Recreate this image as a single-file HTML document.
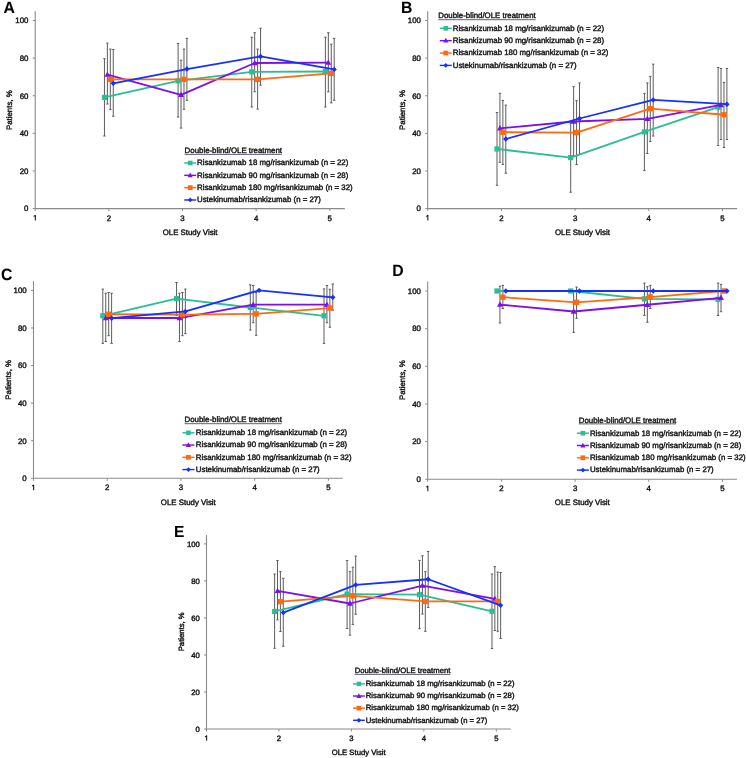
<!DOCTYPE html>
<html><head><meta charset="utf-8"><style>
html,body{margin:0;padding:0;background:#fff;}
body{width:746px;height:758px;overflow:hidden;}
svg{display:block;will-change:transform;}
text{font-family:"Liberation Sans",sans-serif;fill:#141414;stroke:#141414;stroke-width:0.4px;text-rendering:geometricPrecision;}
</style></head><body>
<svg width="746" height="758" viewBox="0 0 746 758">
<path d="M35.2 11.3V208.6H344.8" stroke="#8A8A8A" stroke-width="1.1" fill="none"/>
<path d="M32.7 208.6H35.2" stroke="#8A8A8A" stroke-width="1"/>
<text transform="translate(28.4 211.4) scale(1 1.0)" text-anchor="end" font-size="7.86">0</text>
<path d="M32.7 170.98H35.2" stroke="#8A8A8A" stroke-width="1"/>
<text transform="translate(28.4 173.78) scale(1 1.0)" text-anchor="end" font-size="7.86">20</text>
<path d="M32.7 133.36H35.2" stroke="#8A8A8A" stroke-width="1"/>
<text transform="translate(28.4 136.16) scale(1 1.0)" text-anchor="end" font-size="7.86">40</text>
<path d="M32.7 95.74H35.2" stroke="#8A8A8A" stroke-width="1"/>
<text transform="translate(28.4 98.54) scale(1 1.0)" text-anchor="end" font-size="7.86">60</text>
<path d="M32.7 58.12H35.2" stroke="#8A8A8A" stroke-width="1"/>
<text transform="translate(28.4 60.92) scale(1 1.0)" text-anchor="end" font-size="7.86">80</text>
<path d="M32.7 20.5H35.2" stroke="#8A8A8A" stroke-width="1"/>
<text transform="translate(28.4 23.3) scale(1 1.0)" text-anchor="end" font-size="7.86">100</text>
<path d="M35.2 208.6V211.1" stroke="#8A8A8A" stroke-width="1"/>
<path d="M35.35 220.6V215M35.35 215.1C34.85 216 34.15 216.3 33.65 216.4" stroke="#141414" stroke-width="1.05" fill="none"/>
<path d="M108.85 208.6V211.1" stroke="#8A8A8A" stroke-width="1"/>
<text transform="translate(108.85 220.6) scale(1 1.0)" text-anchor="middle" font-size="7.86">2</text>
<path d="M182.5 208.6V211.1" stroke="#8A8A8A" stroke-width="1"/>
<text transform="translate(182.5 220.6) scale(1 1.0)" text-anchor="middle" font-size="7.86">3</text>
<path d="M256.15 208.6V211.1" stroke="#8A8A8A" stroke-width="1"/>
<text transform="translate(256.15 220.6) scale(1 1.0)" text-anchor="middle" font-size="7.86">4</text>
<path d="M329.8 208.6V211.1" stroke="#8A8A8A" stroke-width="1"/>
<text transform="translate(329.8 220.6) scale(1 1.0)" text-anchor="middle" font-size="7.86">5</text>
<text transform="translate(190.1 234.8) scale(1 1.0)" text-anchor="middle" font-size="7.86">OLE Study Visit</text>
<text transform="translate(12.1 110.2) rotate(-90) scale(1 1.0)" text-anchor="middle" font-size="7.86">Patients, %</text>
<text transform="translate(3.6 13.1) scale(0.97 1)" x="0" y="0" font-size="16.3" font-weight="bold" style="fill:#000;stroke:#000;stroke-width:0.05px">A</text>
<path d="M104.45 58.68V135.99M103.25 58.68h2.4M103.25 135.99h2.4" stroke="#5C5C5C" stroke-width="1" fill="none"/>
<path d="M178.1 43.45V117M176.9 43.45h2.4M176.9 117h2.4" stroke="#5C5C5C" stroke-width="1" fill="none"/>
<path d="M251.75 37.24V107.03M250.55 37.24h2.4M250.55 107.03h2.4" stroke="#5C5C5C" stroke-width="1" fill="none"/>
<path d="M325.4 37.24V107.03M324.2 37.24h2.4M324.2 107.03h2.4" stroke="#5C5C5C" stroke-width="1" fill="none"/>
<path d="M107.38 43.07V104.02M106.18 43.07h2.4M106.18 104.02h2.4" stroke="#5C5C5C" stroke-width="1" fill="none"/>
<path d="M181.03 60.19V128.09M179.83 60.19h2.4M179.83 128.09h2.4" stroke="#5C5C5C" stroke-width="1" fill="none"/>
<path d="M254.68 32.73V91.79M253.48 32.73h2.4M253.48 91.79h2.4" stroke="#5C5C5C" stroke-width="1" fill="none"/>
<path d="M328.33 32.73V91.79M327.13 32.73h2.4M327.13 91.79h2.4" stroke="#5C5C5C" stroke-width="1" fill="none"/>
<path d="M110.32 49.09V109.47M109.12 49.09h2.4M109.12 109.47h2.4" stroke="#5C5C5C" stroke-width="1" fill="none"/>
<path d="M183.97 49.09V109.28M182.77 49.09h2.4M182.77 109.28h2.4" stroke="#5C5C5C" stroke-width="1" fill="none"/>
<path d="M257.62 49.09V109.1M256.42 49.09h2.4M256.42 109.1h2.4" stroke="#5C5C5C" stroke-width="1" fill="none"/>
<path d="M331.27 44.2V102.89M330.07 44.2h2.4M330.07 102.89h2.4" stroke="#5C5C5C" stroke-width="1" fill="none"/>
<path d="M113.25 49.47V116.24M112.05 49.47h2.4M112.05 116.24h2.4" stroke="#5C5C5C" stroke-width="1" fill="none"/>
<path d="M186.9 38.37V100.25M185.7 38.37h2.4M185.7 100.25h2.4" stroke="#5C5C5C" stroke-width="1" fill="none"/>
<path d="M260.55 28.21V85.21M259.35 28.21h2.4M259.35 85.21h2.4" stroke="#5C5C5C" stroke-width="1" fill="none"/>
<path d="M334.2 38.37V100.25M333 38.37h2.4M333 100.25h2.4" stroke="#5C5C5C" stroke-width="1" fill="none"/>
<polyline points="104.45,97.43 178.1,80.88 251.75,71.85 325.4,71.48" stroke="#2BBD95" stroke-width="1.8" fill="none" stroke-linejoin="round"/>
<rect x="101.85" y="94.83" width="5.2" height="5.2" fill="#2BBD95"/>
<rect x="175.5" y="78.28" width="5.2" height="5.2" fill="#2BBD95"/>
<rect x="249.15" y="69.25" width="5.2" height="5.2" fill="#2BBD95"/>
<rect x="322.8" y="68.88" width="5.2" height="5.2" fill="#2BBD95"/>
<polyline points="107.38,74.67 181.03,94.8 254.68,63.01 328.33,62.63" stroke="#7F0FEA" stroke-width="1.8" fill="none" stroke-linejoin="round"/>
<polygon points="107.38,71.47 110.28,76.87 104.48,76.87" fill="#7F0FEA"/>
<polygon points="181.03,91.6 183.93,97 178.13,97" fill="#7F0FEA"/>
<polygon points="254.68,59.81 257.58,65.21 251.78,65.21" fill="#7F0FEA"/>
<polygon points="328.33,59.43 331.23,64.83 325.43,64.83" fill="#7F0FEA"/>
<polyline points="110.32,79.38 183.97,79.38 257.62,79.38 331.27,73.36" stroke="#FF6A10" stroke-width="1.8" fill="none" stroke-linejoin="round"/>
<rect x="107.62" y="76.68" width="5.4" height="5.4" fill="#FF6A10"/>
<rect x="181.27" y="76.68" width="5.4" height="5.4" fill="#FF6A10"/>
<rect x="254.92" y="76.68" width="5.4" height="5.4" fill="#FF6A10"/>
<rect x="328.57" y="70.66" width="5.4" height="5.4" fill="#FF6A10"/>
<polyline points="113.25,83.33 186.9,69.03 260.55,56.43 334.2,69.41" stroke="#1530FF" stroke-width="1.8" fill="none" stroke-linejoin="round"/>
<polygon points="113.25,80.63 115.95,83.33 113.25,86.03 110.55,83.33" fill="#1530FF"/>
<polygon points="186.9,66.33 189.6,69.03 186.9,71.73 184.2,69.03" fill="#1530FF"/>
<polygon points="260.55,53.73 263.25,56.43 260.55,59.13 257.85,56.43" fill="#1530FF"/>
<polygon points="334.2,66.71 336.9,69.41 334.2,72.11 331.5,69.41" fill="#1530FF"/>
<text transform="translate(184.6 153) scale(1 1.0)" font-size="7.86">Double-blind/OLE treatment</text>
<path d="M184.6 154.4H281.8" stroke="#3a3a52" stroke-width="0.8"/>
<path d="M184.2 163H196.2" stroke="#2BBD95" stroke-width="1.45"/>
<rect x="187.91" y="160.71" width="4.58" height="4.58" fill="#2BBD95"/>
<text transform="translate(197 165.35) scale(1 1.0)" font-size="7.86">Risankizumab 18 mg/risankizumab (n = 22)</text>
<path d="M184.2 175.33H196.2" stroke="#7F0FEA" stroke-width="1.45"/>
<polygon points="190.2,172.51 192.75,177.27 187.65,177.27" fill="#7F0FEA"/>
<text transform="translate(197 177.68) scale(1 1.0)" font-size="7.86">Risankizumab 90 mg/risankizumab (n = 28)</text>
<path d="M184.2 187.66H196.2" stroke="#FF6A10" stroke-width="1.45"/>
<rect x="187.82" y="185.28" width="4.75" height="4.75" fill="#FF6A10"/>
<text transform="translate(197 190.01) scale(1 1.0)" font-size="7.86">Risankizumab 180 mg/risankizumab (n = 32)</text>
<path d="M184.2 199.99H196.2" stroke="#1530FF" stroke-width="1.45"/>
<polygon points="190.2,197.61 192.58,199.99 190.2,202.37 187.82,199.99" fill="#1530FF"/>
<text transform="translate(197 202.34) scale(1 1.0)" font-size="7.86">Ustekinumab/risankizumab (n = 27)</text>
<path d="M427.7 11.3V208.6H737.1" stroke="#8A8A8A" stroke-width="1.1" fill="none"/>
<path d="M425.2 208.6H427.7" stroke="#8A8A8A" stroke-width="1"/>
<text transform="translate(420.9 211.4) scale(1 1.0)" text-anchor="end" font-size="7.86">0</text>
<path d="M425.2 170.98H427.7" stroke="#8A8A8A" stroke-width="1"/>
<text transform="translate(420.9 173.78) scale(1 1.0)" text-anchor="end" font-size="7.86">20</text>
<path d="M425.2 133.36H427.7" stroke="#8A8A8A" stroke-width="1"/>
<text transform="translate(420.9 136.16) scale(1 1.0)" text-anchor="end" font-size="7.86">40</text>
<path d="M425.2 95.74H427.7" stroke="#8A8A8A" stroke-width="1"/>
<text transform="translate(420.9 98.54) scale(1 1.0)" text-anchor="end" font-size="7.86">60</text>
<path d="M425.2 58.12H427.7" stroke="#8A8A8A" stroke-width="1"/>
<text transform="translate(420.9 60.92) scale(1 1.0)" text-anchor="end" font-size="7.86">80</text>
<path d="M425.2 20.5H427.7" stroke="#8A8A8A" stroke-width="1"/>
<text transform="translate(420.9 23.3) scale(1 1.0)" text-anchor="end" font-size="7.86">100</text>
<path d="M427.7 208.6V211.1" stroke="#8A8A8A" stroke-width="1"/>
<path d="M427.85 220.6V215M427.85 215.1C427.35 216 426.65 216.3 426.15 216.4" stroke="#141414" stroke-width="1.05" fill="none"/>
<path d="M501.4 208.6V211.1" stroke="#8A8A8A" stroke-width="1"/>
<text transform="translate(501.4 220.6) scale(1 1.0)" text-anchor="middle" font-size="7.86">2</text>
<path d="M575.1 208.6V211.1" stroke="#8A8A8A" stroke-width="1"/>
<text transform="translate(575.1 220.6) scale(1 1.0)" text-anchor="middle" font-size="7.86">3</text>
<path d="M648.8 208.6V211.1" stroke="#8A8A8A" stroke-width="1"/>
<text transform="translate(648.8 220.6) scale(1 1.0)" text-anchor="middle" font-size="7.86">4</text>
<path d="M722.5 208.6V211.1" stroke="#8A8A8A" stroke-width="1"/>
<text transform="translate(722.5 220.6) scale(1 1.0)" text-anchor="middle" font-size="7.86">5</text>
<text transform="translate(582.4 234.8) scale(1 1.0)" text-anchor="middle" font-size="7.86">OLE Study Visit</text>
<text transform="translate(404.8 110) rotate(-90) scale(1 1.0)" text-anchor="middle" font-size="7.86">Patients, %</text>
<text transform="translate(400.9 12.9) scale(0.97 1)" x="0" y="0" font-size="16.3" font-weight="bold" style="fill:#000;stroke:#000;stroke-width:0.05px">B</text>
<path d="M497 112.48V185.28M495.8 112.48h2.4M495.8 185.28h2.4" stroke="#5C5C5C" stroke-width="1" fill="none"/>
<path d="M570.7 123.01V192.24M569.5 123.01h2.4M569.5 192.24h2.4" stroke="#5C5C5C" stroke-width="1" fill="none"/>
<path d="M644.4 93.48V170.42M643.2 93.48h2.4M643.2 170.42h2.4" stroke="#5C5C5C" stroke-width="1" fill="none"/>
<path d="M718.1 67.53V145.59M716.9 67.53h2.4M716.9 145.59h2.4" stroke="#5C5C5C" stroke-width="1" fill="none"/>
<path d="M499.93 93.29V162.33M498.73 93.29h2.4M498.73 162.33h2.4" stroke="#5C5C5C" stroke-width="1" fill="none"/>
<path d="M573.63 86.71V156.31M572.43 86.71h2.4M572.43 156.31h2.4" stroke="#5C5C5C" stroke-width="1" fill="none"/>
<path d="M647.33 82.95V153.49M646.13 82.95h2.4M646.13 153.49h2.4" stroke="#5C5C5C" stroke-width="1" fill="none"/>
<path d="M721.03 68.47V139.57M719.83 68.47h2.4M719.83 139.57h2.4" stroke="#5C5C5C" stroke-width="1" fill="none"/>
<path d="M502.87 100.44V164.4M501.67 100.44h2.4M501.67 164.4h2.4" stroke="#5C5C5C" stroke-width="1" fill="none"/>
<path d="M576.57 100.63V164.58M575.37 100.63h2.4M575.37 164.58h2.4" stroke="#5C5C5C" stroke-width="1" fill="none"/>
<path d="M650.27 76.37V141.45M649.07 76.37h2.4M649.07 141.45h2.4" stroke="#5C5C5C" stroke-width="1" fill="none"/>
<path d="M723.97 82.38V147.47M722.77 82.38h2.4M722.77 147.47h2.4" stroke="#5C5C5C" stroke-width="1" fill="none"/>
<path d="M505.8 105.14V173.24M504.6 105.14h2.4M504.6 173.24h2.4" stroke="#5C5C5C" stroke-width="1" fill="none"/>
<path d="M579.5 82.95V154.24M578.3 82.95h2.4M578.3 154.24h2.4" stroke="#5C5C5C" stroke-width="1" fill="none"/>
<path d="M653.2 64.14V135.99M652 64.14h2.4M652 135.99h2.4" stroke="#5C5C5C" stroke-width="1" fill="none"/>
<path d="M726.9 68.47V139.57M725.7 68.47h2.4M725.7 139.57h2.4" stroke="#5C5C5C" stroke-width="1" fill="none"/>
<polyline points="497,148.97 570.7,157.62 644.4,131.86 718.1,107.21" stroke="#2BBD95" stroke-width="1.8" fill="none" stroke-linejoin="round"/>
<rect x="494.4" y="146.37" width="5.2" height="5.2" fill="#2BBD95"/>
<rect x="568.1" y="155.02" width="5.2" height="5.2" fill="#2BBD95"/>
<rect x="641.8" y="129.26" width="5.2" height="5.2" fill="#2BBD95"/>
<rect x="715.5" y="104.61" width="5.2" height="5.2" fill="#2BBD95"/>
<polyline points="499.93,128.28 573.63,121.51 647.33,118.88 721.03,104.96" stroke="#7F0FEA" stroke-width="1.8" fill="none" stroke-linejoin="round"/>
<polygon points="499.93,125.08 502.83,130.48 497.03,130.48" fill="#7F0FEA"/>
<polygon points="573.63,118.31 576.53,123.71 570.73,123.71" fill="#7F0FEA"/>
<polygon points="647.33,115.68 650.23,121.08 644.43,121.08" fill="#7F0FEA"/>
<polygon points="721.03,101.76 723.93,107.16 718.13,107.16" fill="#7F0FEA"/>
<polyline points="502.87,132.23 576.57,132.61 650.27,108.72 723.97,114.74" stroke="#FF6A10" stroke-width="1.8" fill="none" stroke-linejoin="round"/>
<rect x="500.17" y="129.53" width="5.4" height="5.4" fill="#FF6A10"/>
<rect x="573.87" y="129.91" width="5.4" height="5.4" fill="#FF6A10"/>
<rect x="647.57" y="106.02" width="5.4" height="5.4" fill="#FF6A10"/>
<rect x="721.27" y="112.04" width="5.4" height="5.4" fill="#FF6A10"/>
<polyline points="505.8,139 579.5,118.5 653.2,99.88 726.9,104.2" stroke="#1530FF" stroke-width="1.8" fill="none" stroke-linejoin="round"/>
<polygon points="505.8,136.3 508.5,139 505.8,141.7 503.1,139" fill="#1530FF"/>
<polygon points="579.5,115.8 582.2,118.5 579.5,121.2 576.8,118.5" fill="#1530FF"/>
<polygon points="653.2,97.18 655.9,99.88 653.2,102.58 650.5,99.88" fill="#1530FF"/>
<polygon points="726.9,101.5 729.6,104.2 726.9,106.9 724.2,104.2" fill="#1530FF"/>
<text transform="translate(438.3 18.3) scale(1 1.0)" font-size="7.86">Double-blind/OLE treatment</text>
<path d="M438.3 19.7H535.5" stroke="#3a3a52" stroke-width="0.8"/>
<path d="M439.8 28.3H451.8" stroke="#2BBD95" stroke-width="1.45"/>
<rect x="443.51" y="26.01" width="4.58" height="4.58" fill="#2BBD95"/>
<text transform="translate(452.7 30.65) scale(1 1.0)" font-size="7.86">Risankizumab 18 mg/risankizumab (n = 22)</text>
<path d="M439.8 40.67H451.8" stroke="#7F0FEA" stroke-width="1.45"/>
<polygon points="445.8,37.85 448.35,42.61 443.25,42.61" fill="#7F0FEA"/>
<text transform="translate(452.7 43.02) scale(1 1.0)" font-size="7.86">Risankizumab 90 mg/risankizumab (n = 28)</text>
<path d="M439.8 53.04H451.8" stroke="#FF6A10" stroke-width="1.45"/>
<rect x="443.42" y="50.66" width="4.75" height="4.75" fill="#FF6A10"/>
<text transform="translate(452.7 55.39) scale(1 1.0)" font-size="7.86">Risankizumab 180 mg/risankizumab (n = 32)</text>
<path d="M439.8 65.41H451.8" stroke="#1530FF" stroke-width="1.45"/>
<polygon points="445.8,63.03 448.18,65.41 445.8,67.79 443.42,65.41" fill="#1530FF"/>
<text transform="translate(452.7 67.76) scale(1 1.0)" font-size="7.86">Ustekinumab/risankizumab (n = 27)</text>
<path d="M33.5 281.3V478.3H342.8" stroke="#8A8A8A" stroke-width="1.1" fill="none"/>
<path d="M31 478.3H33.5" stroke="#8A8A8A" stroke-width="1"/>
<text transform="translate(26.7 481.1) scale(1 1.0)" text-anchor="end" font-size="7.86">0</text>
<path d="M31 440.72H33.5" stroke="#8A8A8A" stroke-width="1"/>
<text transform="translate(26.7 443.52) scale(1 1.0)" text-anchor="end" font-size="7.86">20</text>
<path d="M31 403.14H33.5" stroke="#8A8A8A" stroke-width="1"/>
<text transform="translate(26.7 405.94) scale(1 1.0)" text-anchor="end" font-size="7.86">40</text>
<path d="M31 365.56H33.5" stroke="#8A8A8A" stroke-width="1"/>
<text transform="translate(26.7 368.36) scale(1 1.0)" text-anchor="end" font-size="7.86">60</text>
<path d="M31 327.98H33.5" stroke="#8A8A8A" stroke-width="1"/>
<text transform="translate(26.7 330.78) scale(1 1.0)" text-anchor="end" font-size="7.86">80</text>
<path d="M31 290.4H33.5" stroke="#8A8A8A" stroke-width="1"/>
<text transform="translate(26.7 293.2) scale(1 1.0)" text-anchor="end" font-size="7.86">100</text>
<path d="M33.5 478.3V480.8" stroke="#8A8A8A" stroke-width="1"/>
<path d="M33.65 490.3V484.7M33.65 484.8C33.15 485.7 32.45 486 31.95 486.1" stroke="#141414" stroke-width="1.05" fill="none"/>
<path d="M107.22 478.3V480.8" stroke="#8A8A8A" stroke-width="1"/>
<text transform="translate(107.22 490.3) scale(1 1.0)" text-anchor="middle" font-size="7.86">2</text>
<path d="M180.95 478.3V480.8" stroke="#8A8A8A" stroke-width="1"/>
<text transform="translate(180.95 490.3) scale(1 1.0)" text-anchor="middle" font-size="7.86">3</text>
<path d="M254.67 478.3V480.8" stroke="#8A8A8A" stroke-width="1"/>
<text transform="translate(254.67 490.3) scale(1 1.0)" text-anchor="middle" font-size="7.86">4</text>
<path d="M328.4 478.3V480.8" stroke="#8A8A8A" stroke-width="1"/>
<text transform="translate(328.4 490.3) scale(1 1.0)" text-anchor="middle" font-size="7.86">5</text>
<text transform="translate(188.3 505) scale(1 1.0)" text-anchor="middle" font-size="7.86">OLE Study Visit</text>
<text transform="translate(10.8 379.8) rotate(-90) scale(1 1.0)" text-anchor="middle" font-size="7.86">Patients, %</text>
<text transform="translate(1 279.9) scale(0.97 1)" x="0" y="0" font-size="16.3" font-weight="bold" style="fill:#000;stroke:#000;stroke-width:0.05px">C</text>
<path d="M102.82 289.08V343.39M101.62 289.08h2.4M101.62 343.39h2.4" stroke="#5C5C5C" stroke-width="1" fill="none"/>
<path d="M176.55 282.51V315.39M175.35 282.51h2.4M175.35 315.39h2.4" stroke="#5C5C5C" stroke-width="1" fill="none"/>
<path d="M250.27 284.76V330.05M249.07 284.76h2.4M249.07 330.05h2.4" stroke="#5C5C5C" stroke-width="1" fill="none"/>
<path d="M324 288.9V343.39M322.8 288.9h2.4M322.8 343.39h2.4" stroke="#5C5C5C" stroke-width="1" fill="none"/>
<path d="M105.75 293.22V341.51M104.55 293.22h2.4M104.55 341.51h2.4" stroke="#5C5C5C" stroke-width="1" fill="none"/>
<path d="M179.48 293.22V341.51M178.28 293.22h2.4M178.28 341.51h2.4" stroke="#5C5C5C" stroke-width="1" fill="none"/>
<path d="M253.2 285.51V322.72M252 285.51h2.4M252 322.72h2.4" stroke="#5C5C5C" stroke-width="1" fill="none"/>
<path d="M326.93 285.51V322.72M325.73 285.51h2.4M325.73 322.72h2.4" stroke="#5C5C5C" stroke-width="1" fill="none"/>
<path d="M108.69 292.47V335.68M107.49 292.47h2.4M107.49 335.68h2.4" stroke="#5C5C5C" stroke-width="1" fill="none"/>
<path d="M182.42 292.47V335.68M181.22 292.47h2.4M181.22 335.68h2.4" stroke="#5C5C5C" stroke-width="1" fill="none"/>
<path d="M256.14 292.47V335.31M254.94 292.47h2.4M254.94 335.31h2.4" stroke="#5C5C5C" stroke-width="1" fill="none"/>
<path d="M329.87 289.27V327.23M328.67 289.27h2.4M328.67 327.23h2.4" stroke="#5C5C5C" stroke-width="1" fill="none"/>
<path d="M111.62 293.22V343.39M110.42 293.22h2.4M110.42 343.39h2.4" stroke="#5C5C5C" stroke-width="1" fill="none"/>
<path d="M185.35 289.08V333.62M184.15 289.08h2.4M184.15 333.62h2.4" stroke="#5C5C5C" stroke-width="1" fill="none"/>
<path d="M332.8 284.01V310.13M331.6 284.01h2.4M331.6 310.13h2.4" stroke="#5C5C5C" stroke-width="1" fill="none"/>
<polyline points="102.82,315.77 176.55,298.67 250.27,307.5 324,315.77" stroke="#2BBD95" stroke-width="1.8" fill="none" stroke-linejoin="round"/>
<rect x="100.22" y="313.17" width="5.2" height="5.2" fill="#2BBD95"/>
<rect x="173.95" y="296.07" width="5.2" height="5.2" fill="#2BBD95"/>
<rect x="247.67" y="304.9" width="5.2" height="5.2" fill="#2BBD95"/>
<rect x="321.4" y="313.17" width="5.2" height="5.2" fill="#2BBD95"/>
<polyline points="105.75,318.02 179.48,318.02 253.2,304.68 326.93,304.68" stroke="#7F0FEA" stroke-width="1.8" fill="none" stroke-linejoin="round"/>
<polygon points="105.75,314.82 108.66,320.22 102.85,320.22" fill="#7F0FEA"/>
<polygon points="179.48,314.82 182.38,320.22 176.58,320.22" fill="#7F0FEA"/>
<polygon points="253.2,301.48 256.1,306.88 250.3,306.88" fill="#7F0FEA"/>
<polygon points="326.93,301.48 329.83,306.88 324.03,306.88" fill="#7F0FEA"/>
<polyline points="108.69,314.26 182.42,314.64 256.14,313.89 329.87,308.06" stroke="#FF6A10" stroke-width="1.8" fill="none" stroke-linejoin="round"/>
<rect x="105.99" y="311.56" width="5.4" height="5.4" fill="#FF6A10"/>
<rect x="179.72" y="311.94" width="5.4" height="5.4" fill="#FF6A10"/>
<rect x="253.44" y="311.19" width="5.4" height="5.4" fill="#FF6A10"/>
<rect x="327.17" y="305.36" width="5.4" height="5.4" fill="#FF6A10"/>
<polyline points="111.62,318.21 185.35,311.44 259.07,290.4 332.8,297.35" stroke="#1530FF" stroke-width="1.8" fill="none" stroke-linejoin="round"/>
<polygon points="111.62,315.51 114.33,318.21 111.62,320.91 108.92,318.21" fill="#1530FF"/>
<polygon points="185.35,308.74 188.05,311.44 185.35,314.14 182.65,311.44" fill="#1530FF"/>
<polygon points="259.07,287.7 261.77,290.4 259.07,293.1 256.38,290.4" fill="#1530FF"/>
<polygon points="332.8,294.65 335.5,297.35 332.8,300.05 330.1,297.35" fill="#1530FF"/>
<text transform="translate(184.5 422.3) scale(1 1.0)" font-size="7.86">Double-blind/OLE treatment</text>
<path d="M184.5 423.7H281.7" stroke="#3a3a52" stroke-width="0.8"/>
<path d="M182.4 432.8H194.4" stroke="#2BBD95" stroke-width="1.45"/>
<rect x="186.11" y="430.51" width="4.58" height="4.58" fill="#2BBD95"/>
<text transform="translate(195.8 435.15) scale(1 1.0)" font-size="7.86">Risankizumab 18 mg/risankizumab (n = 22)</text>
<path d="M182.4 445.05H194.4" stroke="#7F0FEA" stroke-width="1.45"/>
<polygon points="188.4,442.23 190.95,446.99 185.85,446.99" fill="#7F0FEA"/>
<text transform="translate(195.8 447.4) scale(1 1.0)" font-size="7.86">Risankizumab 90 mg/risankizumab (n = 28)</text>
<path d="M182.4 457.3H194.4" stroke="#FF6A10" stroke-width="1.45"/>
<rect x="186.02" y="454.92" width="4.75" height="4.75" fill="#FF6A10"/>
<text transform="translate(195.8 459.65) scale(1 1.0)" font-size="7.86">Risankizumab 180 mg/risankizumab (n = 32)</text>
<path d="M182.4 469.55H194.4" stroke="#1530FF" stroke-width="1.45"/>
<polygon points="188.4,467.17 190.78,469.55 188.4,471.93 186.02,469.55" fill="#1530FF"/>
<text transform="translate(195.8 471.9) scale(1 1.0)" font-size="7.86">Ustekinumab/risankizumab (n = 27)</text>
<path d="M427.7 281.6V479.3H737.1" stroke="#8A8A8A" stroke-width="1.1" fill="none"/>
<path d="M425.2 479.3H427.7" stroke="#8A8A8A" stroke-width="1"/>
<text transform="translate(420.9 482.1) scale(1 1.0)" text-anchor="end" font-size="7.86">0</text>
<path d="M425.2 441.64H427.7" stroke="#8A8A8A" stroke-width="1"/>
<text transform="translate(420.9 444.44) scale(1 1.0)" text-anchor="end" font-size="7.86">20</text>
<path d="M425.2 403.98H427.7" stroke="#8A8A8A" stroke-width="1"/>
<text transform="translate(420.9 406.78) scale(1 1.0)" text-anchor="end" font-size="7.86">40</text>
<path d="M425.2 366.32H427.7" stroke="#8A8A8A" stroke-width="1"/>
<text transform="translate(420.9 369.12) scale(1 1.0)" text-anchor="end" font-size="7.86">60</text>
<path d="M425.2 328.66H427.7" stroke="#8A8A8A" stroke-width="1"/>
<text transform="translate(420.9 331.46) scale(1 1.0)" text-anchor="end" font-size="7.86">80</text>
<path d="M425.2 291H427.7" stroke="#8A8A8A" stroke-width="1"/>
<text transform="translate(420.9 293.8) scale(1 1.0)" text-anchor="end" font-size="7.86">100</text>
<path d="M427.7 479.3V481.8" stroke="#8A8A8A" stroke-width="1"/>
<path d="M427.85 491.3V485.7M427.85 485.8C427.35 486.7 426.65 487 426.15 487.1" stroke="#141414" stroke-width="1.05" fill="none"/>
<path d="M501.4 479.3V481.8" stroke="#8A8A8A" stroke-width="1"/>
<text transform="translate(501.4 491.3) scale(1 1.0)" text-anchor="middle" font-size="7.86">2</text>
<path d="M575.1 479.3V481.8" stroke="#8A8A8A" stroke-width="1"/>
<text transform="translate(575.1 491.3) scale(1 1.0)" text-anchor="middle" font-size="7.86">3</text>
<path d="M648.8 479.3V481.8" stroke="#8A8A8A" stroke-width="1"/>
<text transform="translate(648.8 491.3) scale(1 1.0)" text-anchor="middle" font-size="7.86">4</text>
<path d="M722.5 479.3V481.8" stroke="#8A8A8A" stroke-width="1"/>
<text transform="translate(722.5 491.3) scale(1 1.0)" text-anchor="middle" font-size="7.86">5</text>
<text transform="translate(582.3 505) scale(1 1.0)" text-anchor="middle" font-size="7.86">OLE Study Visit</text>
<text transform="translate(404.8 380.2) rotate(-90) scale(1 1.0)" text-anchor="middle" font-size="7.86">Patients, %</text>
<text transform="translate(392.3 275.5) scale(0.97 1)" x="0" y="0" font-size="16.3" font-weight="bold" style="fill:#000;stroke:#000;stroke-width:0.05px">D</text>
<path d="M644.4 283.09V315.48M643.2 283.09h2.4M643.2 315.48h2.4" stroke="#5C5C5C" stroke-width="1" fill="none"/>
<path d="M718.1 283.09V315.48M716.9 283.09h2.4M716.9 315.48h2.4" stroke="#5C5C5C" stroke-width="1" fill="none"/>
<path d="M499.93 286.1V323.01M498.73 286.1h2.4M498.73 323.01h2.4" stroke="#5C5C5C" stroke-width="1" fill="none"/>
<path d="M573.63 290.62V332.43M572.43 290.62h2.4M572.43 332.43h2.4" stroke="#5C5C5C" stroke-width="1" fill="none"/>
<path d="M647.33 286.67V322.26M646.13 286.67h2.4M646.13 322.26h2.4" stroke="#5C5C5C" stroke-width="1" fill="none"/>
<path d="M721.03 284.41V311.71M719.83 284.41h2.4M719.83 311.71h2.4" stroke="#5C5C5C" stroke-width="1" fill="none"/>
<path d="M502.87 285.35V308.51M501.67 285.35h2.4M501.67 308.51h2.4" stroke="#5C5C5C" stroke-width="1" fill="none"/>
<path d="M576.57 287.05V318.3M575.37 287.05h2.4M575.37 318.3h2.4" stroke="#5C5C5C" stroke-width="1" fill="none"/>
<path d="M650.27 285.35V308.51M649.07 285.35h2.4M649.07 308.51h2.4" stroke="#5C5C5C" stroke-width="1" fill="none"/>
<polyline points="497,291 570.7,291 644.4,298.91 718.1,299.29" stroke="#2BBD95" stroke-width="1.8" fill="none" stroke-linejoin="round"/>
<rect x="494.4" y="288.4" width="5.2" height="5.2" fill="#2BBD95"/>
<rect x="568.1" y="288.4" width="5.2" height="5.2" fill="#2BBD95"/>
<rect x="641.8" y="296.31" width="5.2" height="5.2" fill="#2BBD95"/>
<rect x="715.5" y="296.69" width="5.2" height="5.2" fill="#2BBD95"/>
<polyline points="499.93,304.56 573.63,311.52 647.33,304.75 721.03,297.78" stroke="#7F0FEA" stroke-width="1.8" fill="none" stroke-linejoin="round"/>
<polygon points="499.93,301.36 502.83,306.76 497.03,306.76" fill="#7F0FEA"/>
<polygon points="573.63,308.32 576.53,313.72 570.73,313.72" fill="#7F0FEA"/>
<polygon points="647.33,301.55 650.23,306.95 644.43,306.95" fill="#7F0FEA"/>
<polygon points="721.03,294.58 723.93,299.98 718.13,299.98" fill="#7F0FEA"/>
<polyline points="502.87,297.21 576.57,302.3 650.27,297.03 723.97,291" stroke="#FF6A10" stroke-width="1.8" fill="none" stroke-linejoin="round"/>
<rect x="500.17" y="294.51" width="5.4" height="5.4" fill="#FF6A10"/>
<rect x="573.87" y="299.6" width="5.4" height="5.4" fill="#FF6A10"/>
<rect x="647.57" y="294.33" width="5.4" height="5.4" fill="#FF6A10"/>
<rect x="721.27" y="288.3" width="5.4" height="5.4" fill="#FF6A10"/>
<polyline points="505.8,291 579.5,291 653.2,291 726.9,291" stroke="#1530FF" stroke-width="1.8" fill="none" stroke-linejoin="round"/>
<polygon points="505.8,288.3 508.5,291 505.8,293.7 503.1,291" fill="#1530FF"/>
<polygon points="579.5,288.3 582.2,291 579.5,293.7 576.8,291" fill="#1530FF"/>
<polygon points="653.2,288.3 655.9,291 653.2,293.7 650.5,291" fill="#1530FF"/>
<polygon points="726.9,288.3 729.6,291 726.9,293.7 724.2,291" fill="#1530FF"/>
<text transform="translate(578.8 422.5) scale(1 1.0)" font-size="7.86">Double-blind/OLE treatment</text>
<path d="M578.8 423.9H676" stroke="#3a3a52" stroke-width="0.8"/>
<path d="M576.9 433.2H588.9" stroke="#2BBD95" stroke-width="1.45"/>
<rect x="580.61" y="430.91" width="4.58" height="4.58" fill="#2BBD95"/>
<text transform="translate(589.9 435.55) scale(1 1.0)" font-size="7.86">Risankizumab 18 mg/risankizumab (n = 22)</text>
<path d="M576.9 445.5H588.9" stroke="#7F0FEA" stroke-width="1.45"/>
<polygon points="582.9,442.68 585.45,447.44 580.35,447.44" fill="#7F0FEA"/>
<text transform="translate(589.9 447.85) scale(1 1.0)" font-size="7.86">Risankizumab 90 mg/risankizumab (n = 28)</text>
<path d="M576.9 457.8H588.9" stroke="#FF6A10" stroke-width="1.45"/>
<rect x="580.52" y="455.42" width="4.75" height="4.75" fill="#FF6A10"/>
<text transform="translate(589.9 460.15) scale(1 1.0)" font-size="7.86">Risankizumab 180 mg/risankizumab (n = 32)</text>
<path d="M576.9 470.1H588.9" stroke="#1530FF" stroke-width="1.45"/>
<polygon points="582.9,467.72 585.28,470.1 582.9,472.48 580.52,470.1" fill="#1530FF"/>
<text transform="translate(589.9 472.45) scale(1 1.0)" font-size="7.86">Ustekinumab/risankizumab (n = 27)</text>
<path d="M206.5 534.9V729H510.8" stroke="#8A8A8A" stroke-width="1.1" fill="none"/>
<path d="M204 729H206.5" stroke="#8A8A8A" stroke-width="1"/>
<text transform="translate(199.81 731.76) scale(1 1.0)" text-anchor="end" font-size="7.73">0</text>
<path d="M204 691.98H206.5" stroke="#8A8A8A" stroke-width="1"/>
<text transform="translate(199.81 694.74) scale(1 1.0)" text-anchor="end" font-size="7.73">20</text>
<path d="M204 654.96H206.5" stroke="#8A8A8A" stroke-width="1"/>
<text transform="translate(199.81 657.72) scale(1 1.0)" text-anchor="end" font-size="7.73">40</text>
<path d="M204 617.94H206.5" stroke="#8A8A8A" stroke-width="1"/>
<text transform="translate(199.81 620.7) scale(1 1.0)" text-anchor="end" font-size="7.73">60</text>
<path d="M204 580.92H206.5" stroke="#8A8A8A" stroke-width="1"/>
<text transform="translate(199.81 583.68) scale(1 1.0)" text-anchor="end" font-size="7.73">80</text>
<path d="M204 543.9H206.5" stroke="#8A8A8A" stroke-width="1"/>
<text transform="translate(199.81 546.66) scale(1 1.0)" text-anchor="end" font-size="7.73">100</text>
<path d="M206.5 729V731.5" stroke="#8A8A8A" stroke-width="1"/>
<path d="M206.65 740.81V735.3M206.65 735.4C206.15 736.28 205.45 736.58 204.95 736.68" stroke="#141414" stroke-width="1.05" fill="none"/>
<path d="M278.95 729V731.5" stroke="#8A8A8A" stroke-width="1"/>
<text transform="translate(278.95 740.81) scale(1 1.0)" text-anchor="middle" font-size="7.73">2</text>
<path d="M351.4 729V731.5" stroke="#8A8A8A" stroke-width="1"/>
<text transform="translate(351.4 740.81) scale(1 1.0)" text-anchor="middle" font-size="7.73">3</text>
<path d="M423.85 729V731.5" stroke="#8A8A8A" stroke-width="1"/>
<text transform="translate(423.85 740.81) scale(1 1.0)" text-anchor="middle" font-size="7.73">4</text>
<path d="M496.3 729V731.5" stroke="#8A8A8A" stroke-width="1"/>
<text transform="translate(496.3 740.81) scale(1 1.0)" text-anchor="middle" font-size="7.73">5</text>
<text transform="translate(358.7 755) scale(1 1.0)" text-anchor="middle" font-size="7.73">OLE Study Visit</text>
<text transform="translate(183.76 631.8) rotate(-90) scale(1 1.0)" text-anchor="middle" font-size="7.73">Patients, %</text>
<text transform="translate(174 536.7) scale(0.97 1)" x="0" y="0" font-size="16.04" font-weight="bold" style="fill:#000;stroke:#000;stroke-width:0.05px">E</text>
<path d="M274.62 574.07V648.3M273.42 574.07h2.4M273.42 648.3h2.4" stroke="#5C5C5C" stroke-width="1" fill="none"/>
<path d="M347.07 560.56V628.49M345.87 560.56h2.4M345.87 628.49h2.4" stroke="#5C5C5C" stroke-width="1" fill="none"/>
<path d="M419.52 560.37V628.68M418.32 560.37h2.4M418.32 628.68h2.4" stroke="#5C5C5C" stroke-width="1" fill="none"/>
<path d="M491.97 574.07V648.48M490.77 574.07h2.4M490.77 648.48h2.4" stroke="#5C5C5C" stroke-width="1" fill="none"/>
<path d="M277.5 560.56V619.79M276.3 560.56h2.4M276.3 619.79h2.4" stroke="#5C5C5C" stroke-width="1" fill="none"/>
<path d="M349.95 571.66V635.15M348.75 571.66h2.4M348.75 635.15h2.4" stroke="#5C5C5C" stroke-width="1" fill="none"/>
<path d="M422.4 555.75V614.05M421.2 555.75h2.4M421.2 614.05h2.4" stroke="#5C5C5C" stroke-width="1" fill="none"/>
<path d="M494.85 566.67V630.53M493.65 566.67h2.4M493.65 630.53h2.4" stroke="#5C5C5C" stroke-width="1" fill="none"/>
<path d="M280.4 571.66V631.45M279.2 571.66h2.4M279.2 631.45h2.4" stroke="#5C5C5C" stroke-width="1" fill="none"/>
<path d="M352.85 567.22V624.42M351.65 567.22h2.4M351.65 624.42h2.4" stroke="#5C5C5C" stroke-width="1" fill="none"/>
<path d="M425.3 571.66V631.27M424.1 571.66h2.4M424.1 631.27h2.4" stroke="#5C5C5C" stroke-width="1" fill="none"/>
<path d="M497.75 572.04V631.27M496.55 572.04h2.4M496.55 631.27h2.4" stroke="#5C5C5C" stroke-width="1" fill="none"/>
<path d="M283.28 578.33V646.26M282.08 578.33h2.4M282.08 646.26h2.4" stroke="#5C5C5C" stroke-width="1" fill="none"/>
<path d="M355.73 556.12V614.24M354.53 556.12h2.4M354.53 614.24h2.4" stroke="#5C5C5C" stroke-width="1" fill="none"/>
<path d="M428.18 551.49V607.39M426.98 551.49h2.4M426.98 607.39h2.4" stroke="#5C5C5C" stroke-width="1" fill="none"/>
<path d="M500.63 572.41V638.49M499.43 572.41h2.4M499.43 638.49h2.4" stroke="#5C5C5C" stroke-width="1" fill="none"/>
<polyline points="274.62,611.46 347.07,594.06 419.52,594.62 491.97,611.28" stroke="#2BBD95" stroke-width="1.8" fill="none" stroke-linejoin="round"/>
<rect x="272.06" y="608.9" width="5.12" height="5.12" fill="#2BBD95"/>
<rect x="344.51" y="591.5" width="5.12" height="5.12" fill="#2BBD95"/>
<rect x="416.96" y="592.06" width="5.12" height="5.12" fill="#2BBD95"/>
<rect x="489.41" y="608.72" width="5.12" height="5.12" fill="#2BBD95"/>
<polyline points="277.5,590.92 349.95,603.5 422.4,585.55 494.85,598.87" stroke="#7F0FEA" stroke-width="1.8" fill="none" stroke-linejoin="round"/>
<polygon points="277.5,587.77 280.36,593.08 274.65,593.08" fill="#7F0FEA"/>
<polygon points="349.95,600.35 352.81,605.67 347.1,605.67" fill="#7F0FEA"/>
<polygon points="422.4,582.4 425.26,587.71 419.55,587.71" fill="#7F0FEA"/>
<polygon points="494.85,595.73 497.71,601.04 492,601.04" fill="#7F0FEA"/>
<polyline points="280.4,601.65 352.85,595.91 425.3,601.47 497.75,601.47" stroke="#FF6A10" stroke-width="1.8" fill="none" stroke-linejoin="round"/>
<rect x="277.74" y="598.99" width="5.31" height="5.31" fill="#FF6A10"/>
<rect x="350.19" y="593.26" width="5.31" height="5.31" fill="#FF6A10"/>
<rect x="422.64" y="598.81" width="5.31" height="5.31" fill="#FF6A10"/>
<rect x="495.09" y="598.81" width="5.31" height="5.31" fill="#FF6A10"/>
<polyline points="283.28,612.57 355.73,584.81 428.18,579.25 500.63,605.35" stroke="#1530FF" stroke-width="1.8" fill="none" stroke-linejoin="round"/>
<polygon points="283.28,609.92 285.94,612.57 283.28,615.23 280.62,612.57" fill="#1530FF"/>
<polygon points="355.73,582.15 358.39,584.81 355.73,587.46 353.07,584.81" fill="#1530FF"/>
<polygon points="428.18,576.6 430.84,579.25 428.18,581.91 425.52,579.25" fill="#1530FF"/>
<polygon points="500.63,602.7 503.29,605.35 500.63,608.01 497.97,605.35" fill="#1530FF"/>
<text transform="translate(354.7 673) scale(1 1.0)" font-size="7.73">Double-blind/OLE treatment</text>
<path d="M354.7 674.4H450.34" stroke="#3a3a52" stroke-width="0.8"/>
<path d="M353 683.9H364.81" stroke="#2BBD95" stroke-width="1.45"/>
<rect x="356.65" y="681.65" width="4.5" height="4.5" fill="#2BBD95"/>
<text transform="translate(365.8 686.21) scale(1 1.0)" font-size="7.73">Risankizumab 18 mg/risankizumab (n = 22)</text>
<path d="M353 696.03H364.81" stroke="#7F0FEA" stroke-width="1.45"/>
<polygon points="358.9,693.26 361.42,697.94 356.39,697.94" fill="#7F0FEA"/>
<text transform="translate(365.8 698.34) scale(1 1.0)" font-size="7.73">Risankizumab 90 mg/risankizumab (n = 28)</text>
<path d="M353 708.16H364.81" stroke="#FF6A10" stroke-width="1.45"/>
<rect x="356.57" y="705.82" width="4.68" height="4.68" fill="#FF6A10"/>
<text transform="translate(365.8 710.47) scale(1 1.0)" font-size="7.73">Risankizumab 180 mg/risankizumab (n = 32)</text>
<path d="M353 720.29H364.81" stroke="#1530FF" stroke-width="1.45"/>
<polygon points="358.9,717.95 361.24,720.29 358.9,722.63 356.57,720.29" fill="#1530FF"/>
<text transform="translate(365.8 722.6) scale(1 1.0)" font-size="7.73">Ustekinumab/risankizumab (n = 27)</text>
</svg>
</body></html>
